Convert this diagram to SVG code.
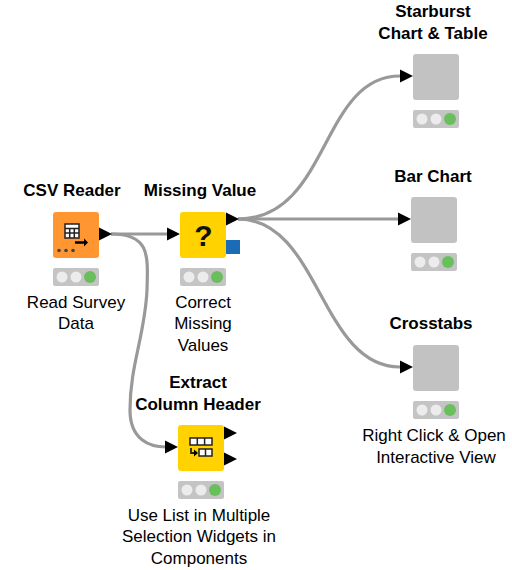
<svg xmlns="http://www.w3.org/2000/svg" width="512" height="570" viewBox="0 0 512 570">
<defs>
<style>
text{font-family:"Liberation Sans",Arial,sans-serif;font-size:17px;fill:#000;text-anchor:middle}
.t{font-weight:bold}
.c{fill:none;stroke:#999;stroke-width:3.2}
.body{stroke:none}
.sb{fill:#c3c4c3}
.w{fill:#ececec}
.g{fill:#68bf5c}
.p{fill:#000}
.i{fill:none;stroke:#222;stroke-width:1.5}
</style>
<g id="lights">
<rect class="sb" x="0" y="0" width="46" height="18" rx="2"/>
<circle class="w" cx="9" cy="9" r="5.5"/>
<circle class="w" cx="23" cy="9" r="5.5"/>
<circle class="g" cx="37" cy="9" r="6"/>
</g>
<path id="port" d="M0 0L13 6.500L0 13Z"/>
</defs>
<g id="connectors">
<path class="c" d="M111 234H167"/>
<path class="c" d="M111 234C150 234 148 255 147 290C145 335 130 365 130 410C130 440 150 447 166 447"/>
<path class="c" d="M238 219C330 219 320 76 400 76"/>
<path class="c" d="M238 219H398"/>
<path class="c" d="M238 219C320 219 320 367 400 367"/>
</g>
<g id="csv-reader">
<text class="t" x="72" y="196">CSV Reader</text>
<rect class="body" x="53" y="212" width="46" height="46" rx="3" fill="#ff9632"/>
<rect x="65" y="224" width="14" height="14" fill="#fff" stroke="#222" stroke-width="1.500"/>
<path class="i" d="M65 228.500H79M65 233H79M69.700 228.500V238M74.300 228.500V238"/>
<path d="M75 242.500H85" stroke="#000" stroke-width="2.500" fill="none"/>
<path class="p" d="M84 238.500L88 242.500L84 246.500Z"/>
<circle cx="59" cy="250.500" r="1.800" fill="#444"/><circle cx="66" cy="250.500" r="1.800" fill="#444"/><circle cx="73" cy="250.500" r="1.800" fill="#444"/>
<use href="#port" x="99" y="227.500"/>
<use href="#lights" x="53" y="268"/>
<text x="76" y="308">Read Survey</text>
<text x="76" y="329">Data</text>
</g>
<g id="missing-value">
<text class="t" x="200" y="196">Missing Value</text>
<rect class="body" x="180" y="212" width="46" height="46" rx="3" fill="#ffd200"/>
<text x="203.500" y="246" style="font-size:30px;font-weight:bold;fill:#111">?</text>
<use href="#port" x="167" y="227.500"/>
<use href="#port" x="226" y="212.500"/>
<rect x="226" y="240" width="14" height="14" fill="#1a6cb5"/>
<use href="#lights" x="180" y="268"/>
<text x="203" y="308">Correct</text>
<text x="203" y="329">Missing</text>
<text x="203" y="351">Values</text>
</g>
<g id="extract-column-header">
<text class="t" x="198" y="388">Extract</text>
<text class="t" x="198" y="410">Column Header</text>
<rect class="body" x="178" y="425" width="46" height="46" rx="3" fill="#ffd200"/>
<rect x="190" y="438" width="22" height="7" fill="#fff" stroke="#222" stroke-width="1.500"/>
<path class="i" d="M197.300 438V445M204.600 438V445"/>
<rect x="199" y="449" width="13" height="7" fill="#fff" stroke="#222" stroke-width="1.500"/>
<path class="i" d="M205.500 449V456"/>
<path d="M191 448V453H195" stroke="#222" stroke-width="1.800" fill="none"/>
<path class="p" d="M194 449.500L198 453L194 456.500Z"/>
<use href="#port" x="165" y="440.500"/>
<use href="#port" x="224" y="426.500"/>
<use href="#port" x="224" y="452.500"/>
<use href="#lights" x="178" y="481"/>
<text x="199" y="521">Use List in Multiple</text>
<text x="199" y="542">Selection Widgets in</text>
<text x="199" y="564">Components</text>
</g>
<g id="starburst">
<text class="t" x="433" y="17">Starburst</text>
<text class="t" x="433" y="39">Chart &amp; Table</text>
<rect class="body" x="413" y="54" width="46" height="46" rx="3" fill="#c1c2c1"/>
<use href="#port" x="400" y="69.500"/>
<use href="#lights" x="413" y="110"/>
</g>
<g id="bar-chart">
<text class="t" x="433" y="182">Bar Chart</text>
<rect class="body" x="411" y="197" width="46" height="46" rx="3" fill="#c1c2c1"/>
<use href="#port" x="398" y="212.500"/>
<use href="#lights" x="411" y="253"/>
</g>
<g id="crosstabs">
<text class="t" x="431" y="329">Crosstabs</text>
<rect class="body" x="413" y="345" width="46" height="46" rx="3" fill="#c1c2c1"/>
<use href="#port" x="400" y="360.500"/>
<use href="#lights" x="413" y="401"/>
<text x="434" y="441">Right Click &amp; Open</text>
<text x="436" y="463">Interactive View</text>
</g>
</svg>
